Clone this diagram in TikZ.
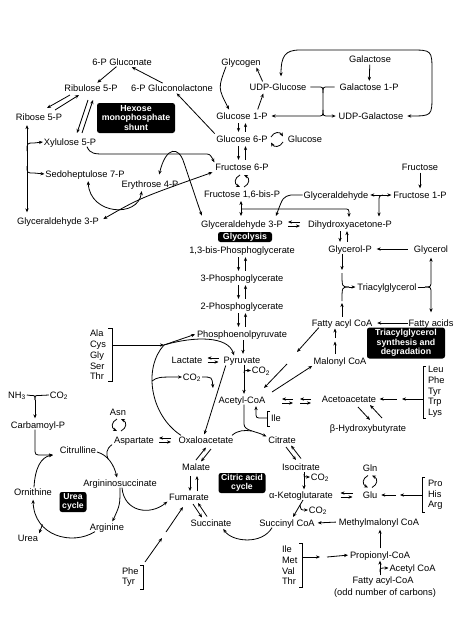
\documentclass[tikz,border=0pt]{standalone}
\usepackage{fontspec}
\setmainfont{Liberation Sans}
\usetikzlibrary{arrows.meta}
\newcommand{\lab}{\fontsize{9.3}{10.7}\selectfont}
\newcommand{\boxf}{\fontsize{8.8}{9.3}\selectfont\bfseries}
\newcommand{\boxs}{\fontsize{8.6}{9.2}\selectfont\bfseries}
\tikzset{
  lbl/.style={inner sep=0.8pt, font=\lab, text height=6.9pt, text depth=0.4pt},
  list/.style={inner sep=0.8pt, font=\lab, align=left},
  blackbox/.style={fill=black, text=white, rounded corners=2.5pt, font=\boxf, align=center, inner sep=0pt},
  ln/.style={line width=0.8pt},
  arr/.style={ln, -{Stealth[length=4pt,width=3.3pt]}},
  darr/.style={ln, {Stealth[length=4pt,width=3.3pt]}-{Stealth[length=4pt,width=3.3pt]}},
}
\newcommand{\mvpair}[3][0]{%
  \draw[arr,shorten <=2.5pt,shorten >=2.5pt] ([xshift=#1pt-3.5pt]#2.south) -- ([xshift=#1pt-3.5pt]#3.north);
  \draw[arr,shorten <=2.5pt,shorten >=2.5pt] ([xshift=#1pt+3.5pt]#3.north) -- ([xshift=#1pt+3.5pt]#2.south);}
\newcommand{\mhpair}[3]{%
  \draw[arr] ({#1+#3},{#2-2}) -- ({#1-#3},{#2-2});
  \draw[arr] ({#1-#3},{#2+2}) -- ({#1+#3},{#2+2});}
\newcommand{\mcpair}[2]{%
  \draw[arr] ({#1-2},{#2-6}) .. controls ({#1-8},{#2-3}) and ({#1-8},{#2+3}) .. ({#1-2},{#2+6});
  \draw[arr] ({#1+2},{#2+6}) .. controls ({#1+8},{#2+3}) and ({#1+8},{#2-3}) .. ({#1+2},{#2-6});}
\begin{document}
\begin{tikzpicture}[x=1pt,y=-1pt]
\fill[white] (0,0) rectangle (474,632);
\useasboundingbox (0,0) rectangle (474,632);

% ---------- nodes ----------
\node[lbl] (gluconate) at (122,62) {6-P Gluconate};
\node[lbl] (ribulose) at (91,88) {Ribulose 5-P};
\node[lbl] (lactone) at (172,88) {6-P Gluconolactone};
\node[lbl] (ribose) at (39,117) {Ribose 5-P};
\node[blackbox, minimum width=78pt, minimum height=30pt] (hms) at (136,118) {Hexose\\monophosphate\\shunt};
\node[lbl] (xyl) at (70,142) {Xylulose 5-P};
\node[lbl] (sedo) at (85,174) {Sedoheptulose 7-P};
\node[lbl] (ery) at (150,184) {Erythrose 4-P};
\node[lbl] (gapl) at (58,221) {Glyceraldehyde 3-P};

\node[lbl] (glycogen) at (241,62) {Glycogen};
\node[lbl] (udpglc) at (278,87) {UDP-Glucose};
\node[lbl] (g1p) at (242,116) {Glucose 1-P};
\node[lbl] (g6p) at (242,139) {Glucose 6-P};
\node[lbl] (glc) at (305,139) {Glucose};
\node[lbl] (f6p) at (242,167) {Fructose 6-P};
\node[lbl] (f16bp) at (242,194) {Fructose 1,6-bis-P};
\node[lbl] (gald) at (336,195) {Glyceraldehyde};
\node[lbl] (f1p) at (420,195) {Fructose 1-P};
\node[lbl] (fru) at (420,167) {Fructose};
\node[lbl] (gal) at (370,59) {Galactose};
\node[lbl] (gal1p) at (369,87) {Galactose 1-P};
\node[lbl] (udpgal) at (371,116) {UDP-Galactose};

\node[lbl] (gap) at (242,224) {Glyceraldehyde 3-P};
\node[lbl] (dhap) at (350,224) {Dihydroxyacetone-P};
\node[blackbox, minimum width=54pt, minimum height=10pt] (glyb) at (245,237) {Glycolysis};
\node[lbl] (bpg) at (242,250) {1,3-bis-Phosphoglycerate};
\node[lbl] (pg3) at (242,278) {3-Phosphoglycerate};
\node[lbl] (pg2) at (242,306) {2-Phosphoglycerate};
\node[lbl] (pep) at (242,334) {Phosphoenolpyruvate};
\node[lbl] (pyr) at (242,360) {Pyruvate};
\node[lbl] (lac) at (187,360) {Lactate};
\node[lbl] (co2a) at (261,370.5) {CO\textsubscript{2}};
\node[lbl] (acoa) at (242,400) {Acetyl-CoA};
\node[lbl, anchor=west] (ile) at (270,418) {Ile};

\node[lbl] (glyp) at (350,249) {Glycerol-P};
\node[lbl] (glycerol) at (431,249) {Glycerol};
\node[lbl] (tag) at (387,287) {Triacylglycerol};
\node[lbl] (facoa) at (342,323) {Fatty acyl CoA};
\node[lbl] (fa) at (431,323) {Fatty acids};
\node[blackbox, minimum width=78pt, minimum height=31pt] (tagb) at (406,343) {Triacylglycerol\\synthesis and\\degradation};
\node[lbl] (mal) at (340,361) {Malonyl CoA};
\node[lbl] (acac) at (349,399) {Acetoacetate};
\node[lbl] (bhb) at (368,428) {β-Hydroxybutyrate};
\node[list, anchor=west] (leu) at (427,392) {Leu\\Phe\\Tyr\\Trp\\Lys};

\node[list, anchor=west] (aacs) at (89,355) {Ala\\Cys\\Gly\\Ser\\Thr};
\node[lbl] (co2b) at (192,377) {CO\textsubscript{2}};
\node[lbl] (nh3) at (17,395) {NH\textsubscript{3}};
\node[lbl] (co2c) at (59,395) {CO\textsubscript{2}};
\node[lbl] (carb) at (38,425) {Carbamoyl-P};
\node[lbl] (asn) at (118,412) {Asn};
\node[lbl] (asp) at (134,440) {Aspartate};
\node[lbl] (oaa) at (206,440) {Oxaloacetate};
\node[lbl] (cit) at (282,440) {Citrate};
\node[lbl] (citr) at (78,450) {Citrulline};
\node[lbl] (args) at (120,483) {Argininosuccinate};
\node[lbl] (orn) at (33,492) {Ornithine};
\node[blackbox, font=\boxs, minimum width=27pt, minimum height=20pt] (ureab) at (73,502) {Urea\\cycle};
\node[lbl] (arg) at (107,527) {Arginine};
\node[lbl] (urea) at (28,538) {Urea};

\node[lbl] (malate) at (196,467) {Malate};
\node[lbl] (fum) at (189,497) {Fumarate};
\node[lbl] (succ) at (211,523) {Succinate};
\node[lbl] (icit) at (301,467) {Isocitrate};
\node[lbl] (co2d) at (320,477) {CO\textsubscript{2}};
\node[lbl] (akg) at (301,495) {α-Ketoglutarate};
\node[lbl] (co2e) at (318,510) {CO\textsubscript{2}};
\node[lbl] (succoa) at (287,523) {Succinyl CoA};
\node[blackbox, font=\boxs, minimum width=47pt, minimum height=20pt] (cacb) at (242,483) {Citric acid\\cycle};
\node[lbl] (gln) at (370,468) {Gln};
\node[lbl] (glu) at (370,495) {Glu};
\node[list, anchor=west] (pha) at (427,495) {Pro\\His\\Arg};
\node[lbl] (mmcoa) at (379,522) {Methylmalonyl CoA};
\node[lbl] (propcoa) at (380,555) {Propionyl-CoA};
\node[lbl, anchor=west] (acoa2) at (388.5,568) {Acetyl CoA};
\node[lbl] (facoa2) at (383,580) {Fatty acyl-CoA};
\node[lbl] (odd) at (385,592) {(odd number of carbons)};
\node[list, anchor=west] (imvt) at (281,565.5) {Ile\\Met\\Val\\Thr};
\node[list, anchor=west] (phetyr) at (121,577) {Phe\\Tyr};

% ---------- pentose phosphate ----------
\draw[arr,shorten <=0.5pt,shorten >=1pt] (lactone) -- (gluconate);
\draw[arr,shorten >=1pt] (gluconate) -- (ribulose);
\draw[arr] (70,95) -- (47,108);
\draw[arr] (55,110) -- (79,95);
\draw[arr] (88,100) -- (77,133);
\draw[arr] (82,133) -- (93,100);
\draw[darr,shorten <=3.5pt,shorten >=4pt] ([xshift=-12pt]ribose.south) -- ([xshift=-31pt]gapl.north);
\draw[arr] (27,151) .. controls (27,143) .. (34,143) -- (xyl.west);
\draw[arr] (27,166) .. controls (27,173) .. (34,173) -- (sedo.west);
\draw[arr] ([xshift=17pt]xyl.south) .. controls (90,154) and (95,154) .. (105,154) -- (204,154) .. controls (210,154) .. (f6p.north west);
\draw[darr,shorten <=5pt,shorten >=4pt] ([xshift=8pt]ery.north) .. controls (166,146) and (179,146) .. (184,163) -- ([xshift=-39pt]gap.north);
\draw[darr,shorten <=2.5pt,shorten >=2.5pt] ([xshift=3pt]sedo.south) .. controls (90,215) and (138,218) .. ([xshift=-8pt]ery.south);
\draw[darr,shorten <=4pt,shorten >=2pt] (gapl.east) .. controls (140,198) .. (f6p.south west);
\draw[arr,shorten <=1pt,shorten >=1pt] (g6p.north west) -- ([xshift=4pt]lactone.south);

% ---------- glycogen / galactose ----------
\draw[arr,shorten >=2pt] ([xshift=-15pt]glycogen.south) .. controls (218,88) .. ([xshift=-12pt]g1p.north);
\draw[arr,shorten <=1pt,shorten >=1pt] ([xshift=-15pt]udpglc.north) -- ([xshift=15pt]glycogen.south);
\draw[arr,shorten <=2pt,shorten >=2pt] ([xshift=15pt]g1p.north) -- ([xshift=-14pt]udpglc.south);
\mvpair{g1p}{g6p}
\draw[arr] (271,137) .. controls (274,131.5) and (280,131.5) .. (283,136.5);
\draw[arr] (283,142) .. controls (280,147.5) and (274,147.5) .. (271,142.5);
\mvpair{g6p}{f6p}
\draw[darr,shorten <=6pt,shorten >=3pt] ([xshift=3pt]udpglc.north) .. controls (281,56) and (285,50) .. (300,50) -- (410,50) .. controls (432,50) .. (432,72) -- (432,95) .. controls (432,116) .. (udpgal.east);
\draw[ln,shorten <=3pt] (udpglc.east) -- (318,87) .. controls (323,87) .. (323,93) -- (323,110);
\draw[ln,shorten <=4pt] (gal1p.west) -- (328,87) .. controls (323,87) .. (323,93);
\draw[arr,shorten >=3pt] (323,110) .. controls (323,116) .. (317,116) -- (g1p.east);
\draw[arr,shorten >=2pt] (323,110) .. controls (323,116) .. (329,116) -- (udpgal.west);
\draw[arr,shorten <=1pt,shorten >=1.5pt] (gal) -- (gal1p);

% ---------- fructose / glycolysis ----------
\draw[arr,shorten <=1pt,shorten >=2pt] (fru) -- (f1p);
\draw[darr,shorten <=1pt,shorten >=1pt] (gald.east) -- (f1p.west);
\draw[arr] (383,195) .. controls (379,196) .. (379,202) -- (379,216.5);
\mcpair{242}{181}
\draw[darr] (241,201) -- (241,216);
\draw[arr] (241,209) -- (344,209) .. controls (349,209) .. (349,217);
\draw[arr] (gald.west) -- (291,195) .. controls (283,197) .. (276,216);
\mhpair{294}{224}{6}
\mvpair{bpg}{pg3}
\mvpair{pg3}{pg2}
\mvpair{pg2}{pep}
\draw[arr,shorten <=1.5pt,shorten >=1.5pt] ([xshift=1pt]pep.south) -- ([xshift=1pt]pyr.north);
\draw[arr,shorten >=1.5pt] ([xshift=2pt]pyr.south) -- ([xshift=2pt]acoa.north);
\draw[arr] (244,373) .. controls (244,370.5) .. (247,370.5) -- (co2a.west);
\mhpair{213}{360}{5.5}
\draw[arr,shorten <=1pt,shorten >=1pt] ([xshift=-16pt]pyr.south) -- ([xshift=-2pt]oaa.north);

% ---------- amino acids to pyruvate, PEP carboxykinase ----------
\coordinate (J) at (164,345);
\draw[ln] (108,328) -- (112,328) -- (112,381) -- (108,381);
\draw[arr] (112,345) -- (J);
\draw[arr] (J) .. controls (195,336) and (228,336) .. ([xshift=-8pt]pyr.north);
\draw[arr,shorten >=1pt] ([xshift=-25pt]oaa.north) .. controls (150,415) and (143,368) .. (J) -- (pep.west);
\draw[arr] (152,381) .. controls (158,377) .. (co2b.west);
\draw[arr] (co2b.east) .. controls (212,377) .. (213,388);
\mhpair{165}{440}{6}
\mcpair{119}{425}

% ---------- acetyl-CoA ----------
\draw[arr,shorten >=1pt] ([xshift=2pt]acoa.south) -- (244,424) .. controls (244,431) and (256,431) .. ([yshift=3pt]cit.west);
\draw[ln] ([xshift=26pt]oaa.north) .. controls (238,430) and (245,430) .. (251.6,431);
\draw[ln] (270,411) -- (267,411) -- (267,426) -- (270,426);
\draw[arr,shorten >=1.5pt] (267,418) -- (262,418) .. controls (256,418) .. (256,412) -- ([xshift=14pt]acoa.south);

% ---------- lipids ----------
\draw[arr] ([xshift=8pt]facoa.south west) -- (297,352);
\draw[arr] (287,364) -- (264,388);
\draw[arr,shorten >=0.5pt] (272,392) -- (mal.south west);
\draw[arr] (335,354) -- (335,341.5);
\draw[arr] (335,338) -- (335,328.5);
\mhpair{287.5}{401}{5.5}
\mhpair{305.5}{401}{5.5}
\draw[arr] (358,407) -- (370,420);
\draw[arr] (382,418) -- (370,405);
\draw[ln] (426,366) -- (423,366) -- (423,418) -- (426,418);
\draw[arr] (423,399) -- (402,399);
\draw[arr,shorten >=2.5pt] (397,399) -- (acac.east);
\mvpair[-6.5]{dhap}{glyp}
\draw[arr] ([xshift=-8pt]glyp.south) -- (342,270);
\draw[ln] (342,273) .. controls (342,287) .. (349,287);
\draw[ln] (342,301) .. controls (342,287) .. (349,287);
\draw[arr,shorten >=1pt] (349,287) -- (tag.west);
\draw[arr,shorten <=1.5pt] (facoa.north) -- (342,303);
\draw[ln] (tag.east) -- (425,287);
\draw[arr,shorten >=4pt] (425,287) .. controls (431,287) .. (431,280) -- (glycerol.south);
\draw[arr,shorten >=6pt] (425,287) .. controls (431,287) .. (431,294) -- (fa.north);
\draw[arr,shorten <=5pt,shorten >=4pt] (glycerol.west) -- (glyp.east);
\draw[arr,shorten >=4pt] (fa.west) -- (facoa.east);

% ---------- urea cycle ----------
\draw[ln] (nh3.east) -- (31,395.5) .. controls (35,395.5) .. (35,400);
\draw[ln] (co2c.west) -- (39,395.5) .. controls (35,395.5) .. (35,400);
\draw[arr,shorten >=2pt] (35,400) -- ([xshift=-3pt]carb.north);
\draw[arr] ([xshift=-3pt]carb.south) -- (35,448) .. controls (35,455) .. (42,455) -- (53,455);
\draw[arr] ([xshift=1pt]orn.north) .. controls (35,468) and (41,457) .. (53,455);
\draw[arr] ([yshift=-2pt]citr.east) .. controls (108,455) and (114,465) .. (117,477.5);
\draw[ln] ([xshift=-22pt]asp.south) .. controls (106,449) and (106,454) .. (108,459);
\draw[arr,shorten >=1pt] ([xshift=2pt]args.south) .. controls (124,512) and (150,516) .. ([yshift=-4pt]fum.west);
\draw[arr,shorten >=1pt] (args.south) .. controls (120,505) .. ([xshift=5pt]arg.north);
\draw[arr,shorten >=3pt] ([xshift=-12pt]arg.south) .. controls (72,546) and (34,536) .. (orn.south);
\draw[arr] (42.5,524.5) -- (urea.north east);

% ---------- citric acid cycle ----------
\draw[arr] (196,460) -- (206,447.5);
\draw[arr] (211,449) -- (201,461.5);
\draw[arr] (190,476) -- (190,491);
\draw[arr] (197,491) -- (197,476);
\draw[arr] (193,504) -- (202,517.5);
\draw[arr] (207,516.5) -- (198,503);
\draw[arr] (286,447) -- (296,460);
\draw[arr] (301,458.5) -- (291,445.5);
\draw[arr,shorten <=0.5pt,shorten >=1pt] ([xshift=3pt]icit.south) -- ([xshift=3pt]akg.north);
\draw[arr] (304,474) .. controls (304,477) .. (307,477) -- (co2d.west);
\draw[arr] (303,500) -- (293,517);
\draw[arr] (300,505) .. controls (301,510) .. (305,510) -- (co2e.west);
\draw[arr,shorten >=1.5pt] ([xshift=-15pt]succoa.south) .. controls (262,545) and (232,542) .. ([xshift=-10pt]succ.south east);
\draw[arr,shorten <=2pt,shorten >=2pt] (mmcoa.west) -- (succoa.east);
\mcpair{370}{481.5}
\mhpair{346.5}{495}{6}
\draw[ln] (425,477) -- (422,477) -- (422,512) -- (425,512);
\draw[arr] (422,495) -- (400,495);
\draw[arr,shorten >=3pt] (396,495) -- (glu.east);
\draw[arr,shorten <=2pt,shorten >=3pt] (propcoa.north) -- ([xshift=1pt]mmcoa.south);
\draw[arr,shorten >=1pt] ([xshift=-3pt]facoa2.north) -- (propcoa.south);
\draw[arr] (380,572) .. controls (380,568) .. (383,568) -- (acoa2.west);
\draw[ln] (299,543) -- (302,543) -- (302,587) -- (299,587);
\draw[arr] (302,557) -- (320,557);
\draw[arr,shorten >=1pt] (327,557) -- (propcoa.west);
\draw[ln] (140,565) -- (143,565) -- (143,589) -- (140,589);
\draw[arr] (145,562) -- (162,538);
\draw[arr] (166,532) -- (183,507);
\end{tikzpicture}
\end{document}
